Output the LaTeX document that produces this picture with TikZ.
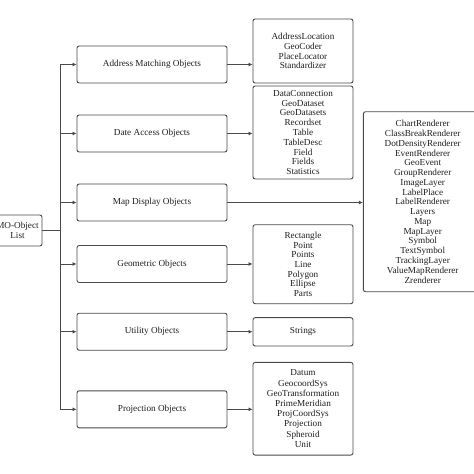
\documentclass[tikz,border=0pt]{standalone}
\usepackage{fontspec}
\setmainfont{Liberation Serif}
\usetikzlibrary{arrows.meta}
\definecolor{linec}{HTML}{4A4A4A}
\definecolor{textc}{HTML}{1E1E1E}
\tikzset{
  box/.style={draw=linec, line width=0.9pt, rounded corners=2.2pt, inner sep=0pt, align=center, text=textc, font=\fontsize{9.2}{9.8}\selectfont},
  midbox/.style={box, minimum width=150pt, minimum height=37pt},
  listbox/.style={box, minimum width=100pt},
  conn/.style={draw=linec, line width=0.9pt},
  arr/.style={conn, -{Latex[length=4pt,width=4pt]}}
}
\begin{document}
\begin{tikzpicture}[x=1pt,y=-1pt]
\useasboundingbox (0,0) rectangle (474,474);
\fill[white] (0,0) rectangle (474,474);
% root
\node[box, minimum width=49pt, minimum height=31pt] (root) at (17.5,230.5) {MO-Object\\List};
% middle boxes
\node[midbox] (am) at (152,64.5) {Address Matching Objects};
\node[midbox] (da) at (152,133.5) {Date Access Objects};
\node[midbox] (md) at (152,202.5) {Map Display Objects};
\node[midbox] (ge) at (152,264) {Geometric Objects};
\node[midbox] (ut) at (152,331.7) {Utility Objects};
\node[midbox] (pr) at (152,409.3) {Projection Objects};
% list boxes
\node[listbox, minimum height=64pt] (amL) at (303,51) {AddressLocation\\GeoCoder\\PlaceLocator\\Standardizer};
\node[listbox, minimum height=93pt] (daL) at (303,132.5) {DataConnection\\GeoDataset\\GeoDatasets\\Recordset\\Table\\TableDesc\\Field\\Fields\\Statistics};
\node[box, minimum width=118.7pt, minimum height=180pt, font=\fontsize{9.2}{9.77}\selectfont] (mdL) at (422.7,201.7) {ChartRenderer\\ClassBreakRenderer\\DotDensityRenderer\\EventRenderer\\GeoEvent\\GroupRenderer\\ImageLayer\\LabelPlace\\LabelRenderer\\Layers\\Map\\MapLayer\\Symbol\\TextSymbol\\TrackingLayer\\ValueMapRenderer\\Zrenderer};
\node[listbox, minimum height=79pt, font=\fontsize{9.2}{9.67}\selectfont] (geL) at (303,264.2) {Rectangle\\Point\\Points\\Line\\Polygon\\Ellipse\\Parts};
\node[listbox, minimum height=28.3pt] (utL) at (303,331.8) {Strings};
\node[listbox, minimum height=92.7pt, font=\fontsize{9.2}{10.2}\selectfont] (prL) at (303,408.7) {Datum\\GeocoordSys\\GeoTransformation\\PrimeMeridian\\ProjCoordSys\\Projection\\Spheroid\\Unit};
% trunk
\coordinate (jt) at (60,0);
\draw[conn] (root.east) -- (jt |- root.east);
\draw[conn] (jt |- am.west) -- (jt |- pr.west);
\foreach \m in {am,da,md,ge,ut,pr}{
  \draw[arr] (jt |- \m.west) -- (\m.west);
}
% right arrows
\draw[arr] (am.east) -- (amL.west |- am.east);
\draw[arr] (da.east) -- (daL.west |- da.east);
\draw[arr] (md.east) -- (mdL.west |- md.east);
\draw[arr] (ge.east) -- (geL.west |- ge.east);
\draw[arr] (ut.east) -- (utL.west |- ut.east);
\draw[arr] (pr.east) -- (prL.west |- pr.east);
\end{tikzpicture}
\end{document}
